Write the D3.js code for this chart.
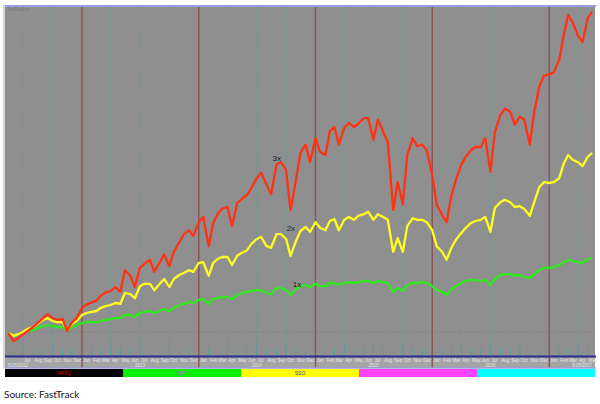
<!DOCTYPE html>
<html>
<head>
<meta charset="utf-8">
<script src="https://cdn.jsdelivr.net/npm/d3@7"></script>
<style>
body { margin:0; background:#fff; }
svg { display:block; }
</style>
</head>
<body>
<svg id="graph"></svg>
<script>
// semi-monthly samples (total return, %)
var dates = [
"2012-05-15","2012-06-01","2012-06-15","2012-07-01","2012-07-15","2012-08-01","2012-08-15","2012-09-01","2012-09-15","2012-10-01","2012-10-15","2012-11-01","2012-11-15","2012-12-01","2012-12-15",
"2013-01-01","2013-01-15","2013-02-01","2013-02-15","2013-03-01","2013-03-15","2013-04-01","2013-04-15","2013-05-01","2013-05-15","2013-06-01","2013-06-15","2013-07-01","2013-07-15","2013-08-01","2013-08-15","2013-09-01","2013-09-15","2013-10-01","2013-10-15","2013-11-01","2013-11-15","2013-12-01","2013-12-15",
"2014-01-01","2014-01-15","2014-02-01","2014-02-15","2014-03-01","2014-03-15","2014-04-01","2014-04-15","2014-05-01","2014-05-15","2014-06-01","2014-06-15","2014-07-01","2014-07-15","2014-08-01","2014-08-15","2014-09-01","2014-09-15","2014-10-01","2014-10-15","2014-11-01","2014-11-15","2014-12-01","2014-12-15",
"2015-01-01","2015-01-15","2015-02-01","2015-02-15","2015-03-01","2015-03-15","2015-04-01","2015-04-15","2015-05-01","2015-05-15","2015-06-01","2015-06-15","2015-07-01","2015-07-15","2015-08-01","2015-08-15","2015-09-01","2015-09-15","2015-10-01","2015-10-15","2015-11-01","2015-11-15","2015-12-01","2015-12-15",
"2016-01-01","2016-01-15","2016-02-01","2016-02-15","2016-03-01","2016-03-15","2016-04-01","2016-04-15","2016-05-01","2016-05-15","2016-06-01","2016-06-15","2016-07-01","2016-07-15","2016-08-01","2016-08-15","2016-09-01","2016-09-15","2016-10-01","2016-10-15","2016-11-01","2016-11-15","2016-12-01","2016-12-15",
"2017-01-01","2017-01-15","2017-02-01","2017-02-15","2017-03-01","2017-03-15","2017-04-01","2017-04-15","2017-05-01","2017-05-15"
]

var threeX = [
2.5,-7.5,-4,1,5,10,15,21,26,21,19,20,5,16,21,
34,38,41,43,49,53,55,60,54,81,74,60,84,89,94,79,91,101,86,104,116,126,131,124,
141,148,111,140,151,158,160,136,165,170,175,184,196,203,188,176,213,216,206,156,194,228,238,216,
246,229,225,255,260,238,259,265,260,264,271,271,244,269,254,241,156,191,163,225,246,236,238,231,
200,163,150,141,174,194,213,223,231,235,235,246,204,254,275,283,279,263,273,269,238,279,311,324,
326,328,344,374,400,391,374,366,396,404
]

var twoX = [
2.5,-1,1,4,7.5,10,14,19,21,17.5,16,16,6,14,17.5,
25,27.5,29,30,34,36,37.5,40,39,52.5,51,46,61,64,64,56,64,70,60,70,75,77.5,81,79,
90,91,74,90,95,97.5,97.5,87.5,99,102.5,106,114,120,122.5,111,109,126,126,120,99,117.5,130,135,129,
141,134,131,142.5,145,131,144,147.5,144,149,151,154,144,151,147.5,144,104,121,104,136,146,144,144,141,
131,111,104,94,109,119,127.5,134,140,142.5,144,147.5,129,159,166,169,166,160,161,157.5,149,166,185,191,
190,191,196,214,225,219,216,211,222.5,227.5
]

var oneX = [
2.5,0,1,2.5,5,6,9,11,12.5,11,10,10,6,10,12.5,
15,16,16,16,17.5,19,20,21,21,25,25,22.5,27.5,29,30,27.5,30,32.5,30,34,37.5,39,41,40,
44,45,39,45,46,47.5,47.5,45,50,52.5,54,55,56,56,52.5,51,59,59,56,50,57.5,61,62.5,60,
64,61,61,65,65,62.5,65,66,65,66,67.5,67.5,65,67.5,66,65,54,59,55,62.5,65,65,66,65,
61,56,54,50,57.5,61,65,67.5,69,69,67.5,69,62.5,70,75,76,76,74,75,72.5,71,76,81,84,
84,85,87.5,91,94,92.5,91,90,95,96
]

var seriesNames = ["1x","2x","3x"]
var seriesColors = ["#2ee81c","#ffff1e","#ff3214"]

var labelDates = ["2014-11-04","2014-10-16","2014-09-02"]
var labelValues = [60,130,217]

var legendNames = ["NFXQ","SPY","SSO","",""]
var legendColors = ["#000000","#00ee00","#ffff00","#ff44ff","#00ffff"]
var legendTextColors = ["#e00000","#ff33ff","#3838a8","#ff44ff","#00ffff"]

var yearLabels = ["2013","2014","2015","2016"]
var endLabels = ["5/15/2012","5/15/2017"]
var gridValues = [4]

var parseDate = d3.utcParse("%Y-%m-%d")

var drawChart = function()
{
    var screen = {width:600,height:404}
    var plot = {left:5,right:595,top:7,bottom:356}

    var svg = d3.select("#graph")
    .attr("width",screen.width)
    .attr("height",screen.height)

    var xscale = d3.scaleUtc()
    .domain([parseDate("2012-05-05"),parseDate("2017-05-24")])
    .range([plot.left,plot.right])

    var yscale = d3.scaleLinear()
    .domain([-26.25,410])
    .range([plot.bottom,plot.top])

    // panel
    svg.append("rect")
    .attr("x",3).attr("y",5).attr("width",2).attr("height",363)
    .attr("fill","#d6d6d6")
    svg.append("rect")
    .attr("x",plot.left).attr("y",plot.top)
    .attr("width",plot.right-plot.left).attr("height",plot.bottom-plot.top)
    .attr("fill","#8f8f8f")
    svg.append("rect")
    .attr("x",plot.left).attr("y",plot.bottom)
    .attr("width",plot.right-plot.left).attr("height",12)
    .attr("fill","#a4a4a4")

    svg.selectAll(".grid")
    .data(gridValues)
    .enter()
    .append("line")
    .attr("class","grid")
    .attr("x1",plot.left).attr("x2",plot.right)
    .attr("y1",function(v){return yscale(v)})
    .attr("y2",function(v){return yscale(v)})
    .attr("stroke","#7c7c7c")
    .attr("stroke-dasharray","1,2")

    var months = d3.utcMonth.range(xscale.domain()[0],xscale.domain()[1])
    var quarters = months.filter(function(d){return d.getUTCMonth()%3==0 && d.getUTCMonth()!=0})
    var years = months.filter(function(d){return d.getUTCMonth()==0})

    svg.selectAll(".quarter")
    .data(quarters)
    .enter()
    .append("line")
    .attr("class","quarter")
    .attr("x1",function(d){return xscale(d)})
    .attr("x2",function(d){return xscale(d)})
    .attr("y1",plot.top).attr("y2",plot.bottom)
    .attr("stroke","#5c9c9c")
    .attr("stroke-dasharray","1,1.5")

    svg.selectAll(".tick")
    .data(months)
    .enter()
    .append("line")
    .attr("class","tick")
    .attr("x1",function(d){return xscale(d)})
    .attr("x2",function(d){return xscale(d)})
    .attr("y1",function(d){return d.getUTCMonth()%3==0 ? plot.bottom-13 : plot.bottom-8})
    .attr("y2",plot.bottom)
    .attr("stroke","#5c9c9c")

    svg.selectAll(".year")
    .data(years)
    .enter()
    .append("line")
    .attr("class","year")
    .attr("x1",function(d){return xscale(d)})
    .attr("x2",function(d){return xscale(d)})
    .attr("y1",plot.top).attr("y2",368)
    .attr("stroke","#8c5656")
    .attr("stroke-width",1.5)

    // borders
    svg.append("line")
    .attr("x1",plot.left).attr("x2",plot.right+1)
    .attr("y1",6).attr("y2",6)
    .attr("stroke","#9c9ce6").attr("stroke-width",2)
    svg.append("line")
    .attr("x1",plot.left).attr("x2",plot.right+1)
    .attr("y1",plot.bottom+0.5).attr("y2",plot.bottom+0.5)
    .attr("stroke","#2c2c8c").attr("stroke-width",2)
    svg.append("line")
    .attr("x1",plot.left).attr("x2",plot.right+1)
    .attr("y1",368).attr("y2",368)
    .attr("stroke","#9c9cd8").attr("stroke-width",1.5)

    svg.append("text")
    .attr("x",7).attr("y",11)
    .attr("font-family","Liberation Sans")
    .attr("font-size",5)
    .attr("fill","#777")
    .text("Tot Return")

    // axis labels
    svg.selectAll(".mlabel")
    .data(months.slice(1))
    .enter()
    .append("text")
    .attr("class","mlabel")
    .attr("x",function(d){return xscale(d)+1})
    .attr("y",362)
    .attr("font-family","Liberation Sans")
    .attr("font-size",4.5)
    .attr("fill","#e4e4e4")
    .text(d3.utcFormat("%b"))

    svg.selectAll(".ylabel")
    .data(yearLabels)
    .enter()
    .append("text")
    .attr("class","ylabel")
    .attr("x",function(d){return xscale(parseDate(d+"-07-01"))})
    .attr("y",367)
    .attr("text-anchor","middle")
    .attr("font-family","Liberation Sans")
    .attr("font-size",4.5)
    .attr("fill","#e4e4e4")
    .text(function(d){return d})

    svg.selectAll(".elabel")
    .data(endLabels)
    .enter()
    .append("text")
    .attr("class","elabel")
    .attr("x",function(d,i){return i==0 ? plot.left+3 : plot.right-3})
    .attr("y",367)
    .attr("text-anchor",function(d,i){return i==0 ? "start" : "end"})
    .attr("font-family","Liberation Sans")
    .attr("font-size",4.5)
    .attr("fill","#e4e4e4")
    .text(function(d){return d})

    // series
    var series = [oneX,twoX,threeX]
    var line = d3.line()
    .x(function(v,i){return xscale(parseDate(dates[i]))})
    .y(function(v){return yscale(v)})

    svg.selectAll(".series")
    .data(series)
    .enter()
    .append("path")
    .attr("class","series")
    .attr("d",line)
    .attr("fill","none")
    .attr("stroke",function(d,i){return seriesColors[i]})
    .attr("stroke-width",2.3)
    .attr("stroke-linejoin","round")

    svg.selectAll(".slabel")
    .data(seriesNames)
    .enter()
    .append("text")
    .attr("class","slabel")
    .attr("x",function(d,i){return xscale(parseDate(labelDates[i]))})
    .attr("y",function(d,i){return yscale(labelValues[i])})
    .attr("text-anchor","middle")
    .attr("font-family","Liberation Sans")
    .attr("font-size",8)
    .attr("fill","#1a1a1a")
    .text(function(d){return d})

    // legend bar
    var band = d3.scaleBand()
    .domain(d3.range(legendNames.length))
    .range([plot.left,plot.right])

    svg.selectAll(".lbar")
    .data(legendNames)
    .enter()
    .append("rect")
    .attr("class","lbar")
    .attr("x",function(d,i){return band(i)})
    .attr("y",369)
    .attr("width",band.bandwidth())
    .attr("height",8)
    .attr("fill",function(d,i){return legendColors[i]})

    svg.selectAll(".ltext")
    .data(legendNames)
    .enter()
    .append("text")
    .attr("class","ltext")
    .attr("x",function(d,i){return band(i)+band.bandwidth()/2})
    .attr("y",375)
    .attr("text-anchor","middle")
    .attr("font-family","Liberation Sans")
    .attr("font-size",5)
    .attr("fill",function(d,i){return legendTextColors[i]})
    .text(function(d){return d})

    svg.append("text")
    .attr("x",4).attr("y",398)
    .attr("font-family","Lato")
    .attr("font-size",10)
    .attr("fill","#111")
    .text("Source: FastTrack")
}

drawChart()
</script>
</body>
</html>
